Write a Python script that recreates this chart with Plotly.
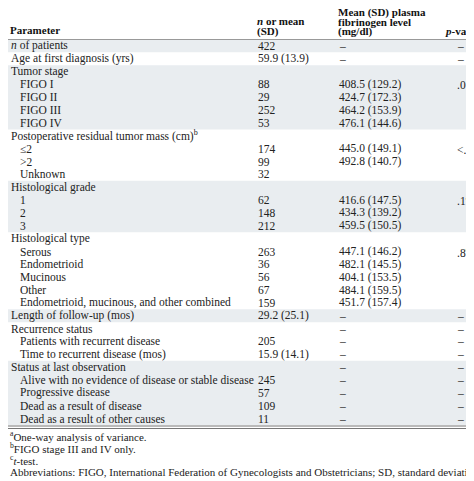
import plotly.graph_objects as go

params = ["<i>n</i> of patients", "Age at first diagnosis (yrs)", "Tumor stage", "FIGO I", "FIGO II", "FIGO III", "FIGO IV",
          "Postoperative residual tumor mass (cm)<sup>b</sup>", "≤2", ">2", "Unknown",
          "Histological grade", "1", "2", "3",
          "Histological type", "Serous", "Endometrioid", "Mucinous", "Other", "Endometrioid, mucinous, and other combined",
          "Length of follow-up (mos)", "Recurrence status", "Patients with recurrent disease", "Time to recurrent disease (mos)",
          "Status at last observation", "Alive with no evidence of disease or stable disease", "Progressive disease",
          "Dead as a result of disease", "Dead as a result of other causes"]
indent = [0,0,0,1,1,1,1,0,1,1,1,0,1,1,1,0,1,1,1,1,1,0,0,1,1,0,1,1,1,1]
n_col = ["422", "59.9 (13.9)", "", "88", "29", "252", "53", "", "174", "99", "32", "", "62", "148", "212",
         "", "263", "36", "56", "67", "159", "29.2 (25.1)", "", "205", "15.9 (14.1)", "", "245", "57", "109", "11"]
mean_col = ["–", "–", "", "408.5 (129.2)", "424.7 (172.3)", "464.2 (153.9)", "476.1 (144.6)", "", "445.0 (149.1)",
            "492.8 (140.7)", "", "", "416.6 (147.5)", "434.3 (139.2)", "459.5 (150.5)", "", "447.1 (146.2)",
            "482.1 (145.5)", "404.1 (153.5)", "484.1 (159.5)", "451.7 (157.4)", "–", "–", "–", "–", "–", "–", "–", "–", "–"]
p_col = ["–", "–", "", ".01<sup>a</sup>", "", "", "", "", "<.01<sup>c</sup>", "", "", "", ".1<sup>a</sup>", "", "",
         "", ".8<sup>c</sup>", "", "", "", "", "–", "–", "–", "–", "–", "–", "–", "–", "–"]
group_sizes = [1, 1, 5, 4, 4, 6, 1, 3, 5]
footnotes = ["<sup>a</sup>One-way analysis of variance.", "<sup>b</sup>FIGO stage III and IV only.", "<sup>c</sup><i>t</i>-test.",
             "Abbreviations: FIGO, International Federation of Gynecologists and Obstetricians; SD, standard deviation."]

W, H = 474, 481
top, rh = 31.5, 12.85
F = dict(family="Liberation Serif", size=11.5, color="#222")
fig = go.Figure()
shapes, ann = [], []
r = 0
for gi, g in enumerate(group_sizes):
    if gi % 2 == 0:
        shapes.append(dict(type="rect", xref="paper", yref="paper", x0=0, x1=1,
                           y0=1 - (top + r*rh)/H, y1=1 - (top + (r+g)*rh)/H,
                           fillcolor="#e9edf0", line_width=0, layer="below"))
    r += g
bottom = top + r*rh
for yy, c in [(top, "#999"), (bottom+1, "#777"), (bottom+3.5, "#777")]:
    shapes.append(dict(type="line", xref="paper", yref="paper", x0=0, x1=1, y0=1-yy/H, y1=1-yy/H, line=dict(color=c, width=1.2)))

def t(x, y, s, font=F, anchor="left"):
    ann.append(dict(xref="paper", yref="paper", x=x/W, y=1-y/H, text=s, showarrow=False,
                    xanchor=anchor, yanchor="middle", font=font))

B = dict(F, color="#111", size=11)
t(0, 22.5, "<b>Parameter</b>", B)
t(247, 13, "<b><i>n</i> or mean</b>", B); t(247, 23, "<b>(SD)</b>", B)
t(328, 4, "<b>Mean (SD) plasma</b>", B); t(328, 13.5, "<b>fibrinogen level</b>", B); t(328, 23, "<b>(mg/dl)</b>", B)
t(474, 23, "<b><i>p</i>-value</b>", B, "right")
for i in range(len(params)):
    y = top + (i+0.5)*rh
    t(1 + 9*indent[i], y, params[i])
    t(248, y, n_col[i]); t(329, y, mean_col[i]); t(447, y, p_col[i])
for j, s in enumerate(footnotes):
    t(0, bottom + 11 + j*12, s, dict(F, size=11))

fig.update_layout(width=W, height=H, margin=dict(l=0, r=0, t=0, b=0), plot_bgcolor="white", paper_bgcolor="white",
                  shapes=shapes, annotations=ann, showlegend=False,
                  xaxis=dict(visible=False, fixedrange=True), yaxis=dict(visible=False, fixedrange=True))
fig.write_html("out.html", config={"displayModeBar": False})
